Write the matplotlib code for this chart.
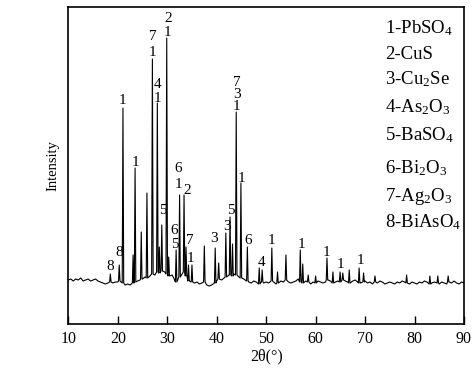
import numpy as np
import matplotlib
matplotlib.use("Agg")
import matplotlib.pyplot as plt

plt.rcParams['font.family'] = ['Liberation Serif', 'DejaVu Serif']
plt.rcParams['mathtext.fontset'] = 'custom'
plt.rcParams['mathtext.rm'] = 'Liberation Serif'
plt.rcParams['mathtext.it'] = 'Liberation Serif:italic'

# baseline of the pattern, one value every 0.5 deg from 10 to 90
base_start = 10.0
base_step = 0.5
baseline = [
    44, 45, 43, 45, 44, 46, 43, 44, 45, 43,
    44, 45, 43, 42, 41, 40, 41, 42, 41, 42,
    42, 43, 41, 39, 40, 39, 41, 42, 43, 44,
    45, 47, 46, 48, 50, 49, 52, 51, 53, 52,
    50, 48, 49, 44, 42, 47, 50, 52, 48, 43,
    42, 41, 42, 40, 41, 42, 39, 38, 39, 41,
    43, 45, 44, 46, 47, 49, 48, 50, 49, 47,
    46, 45, 43, 42, 41, 43, 42, 40, 42, 41,
    42, 41, 43, 42, 40, 41, 43, 42, 44, 42,
    41, 42, 43, 45, 42, 41, 43, 42, 40, 42,
    41, 43, 42, 41, 42, 44, 43, 41, 42, 43,
    42, 44, 43, 42, 41, 43, 44, 42, 41, 42,
    43, 41, 42, 40, 42, 41, 43, 42, 40, 41,
    42, 41, 40, 42, 41, 43, 42, 41, 40, 42,
    41, 40, 42, 41, 43, 42, 40, 41, 42, 41,
    40, 42, 41, 40, 42, 41, 43, 41, 40, 42,
    41,
]

# diffraction peaks: 2theta and apex intensity
peak_pos = [18.5, 20.3, 21.05, 23.1, 23.5, 24.75, 25.9, 27.0, 28.0, 28.4,
            28.9, 29.9, 30.3, 31.8, 32.5, 33.4, 33.8, 34.3, 35.0, 37.5,
            39.7, 40.4, 41.85, 42.7, 43.2, 43.95, 44.9, 46.2, 48.6, 49.2,
            51.15, 52.3, 54.0, 56.9, 57.4, 58.5, 60.0, 62.3, 63.5, 64.95,
            65.5, 66.8, 68.8, 69.7, 72.0, 78.4, 83.1, 84.7, 86.8]
peak_int = [50, 59, 216, 69, 156, 92, 131, 265, 221, 77,
            99, 286, 67, 74, 129, 129, 77, 59, 59, 78,
            76, 61, 91, 107, 80, 212, 141, 77, 56, 54,
            76, 52, 69, 74, 60, 49, 48, 66, 52, 52,
            51, 54, 56, 51, 48, 49, 48, 48, 48]

# phase labels: 2theta, height, text
lab_pos = [18.5, 20.2, 21.05, 23.5, 27.0, 27.0, 28.1, 28.1, 30.1, 30.1,
           29.1, 31.5, 31.5, 32.3, 32.3, 34.0, 34.65, 34.65, 39.55, 42.05,
           42.9, 44.1, 44.1, 44.1, 45.1, 46.4, 49.0, 51.15, 57.2, 62.25,
           64.95, 68.99]
lab_int = [57, 71, 224, 161, 287, 272, 239, 226, 306, 291,
           114, 94, 80, 156, 140, 134, 84, 66, 86, 97,
           114, 242, 230, 217, 146, 84, 61, 84, 79, 72,
           59, 64]
lab_txt = ['8', '8', '1', '1', '7', '1', '4', '1', '2', '1',
           '5', '6', '5', '6', '1', '2', '7', '1', '3', '3',
           '5', '7', '3', '1', '1', '6', '4', '1', '1', '1',
           '1', '1']

legend_txt = ['1-PbSO$_4$', '2-CuS', '3-Cu$_2$Se', '4-As$_2$O$_3$',
              '5-BaSO$_4$', '6-Bi$_2$O$_3$', '7-Ag$_2$O$_3$', '8-BiAsO$_4$']

# build the polyline: baseline points plus a sharp apex per peak
half = 0.15
bx = base_start + base_step * np.arange(len(baseline))
pts = []
for x, y in zip(bx, baseline):
    if all(abs(x - p) > half + 0.05 for p in peak_pos):
        pts.append((x, y))
for p, h in zip(peak_pos, peak_int):
    b = baseline[int(round((p - base_start) / base_step))]
    pts += [(p - half, b), (p, h), (p + half, b)]
pts.sort()
tt = [q[0] for q in pts]
ii = [q[1] for q in pts]

fig = plt.figure(figsize=(4.74, 3.72), dpi=100)
ax = fig.add_axes([68.3 / 474, 48 / 372, 395.7 / 474, 317 / 372])
ax.plot(tt, ii, color='black', lw=0.8)

for x, y, s in zip(lab_pos, lab_int, lab_txt):
    ax.text(x, y, s, ha='center', va='center', fontsize=11)

leg_y = [0.934, 0.849, 0.773, 0.685, 0.596, 0.492, 0.401, 0.322]
for y, s in zip(leg_y, legend_txt):
    ax.text(0.80, y, s, transform=ax.transAxes, ha='left', va='center', fontsize=13.5)

ax.set_xlim(10, 90)
ax.set_ylim(0, 317)
ax.set_xticks(range(10, 91, 10))
ax.set_yticks([])
ax.tick_params(axis='x', direction='in', length=6, width=1, labelsize=11.5, pad=5)
for sp in ax.spines.values():
    sp.set_linewidth(1.2)
ax.set_xlabel('2θ(°)', fontsize=11.5, labelpad=1)
ax.set_ylabel('Intensity', fontsize=10.5, labelpad=6)

plt.savefig('out.png', dpi=100)
